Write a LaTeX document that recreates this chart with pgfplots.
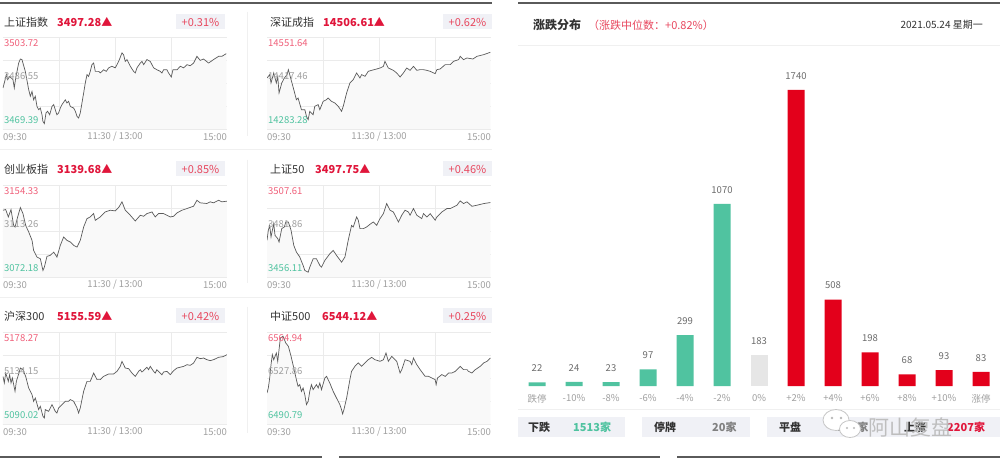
\documentclass[border=0pt]{standalone}
\usepackage{pgfplots}
\pgfplotsset{compat=1.18}
\usepackage{pgfplotstable}
\usepackage{fontspec}
\setmainfont{Noto Sans CJK SC}

\definecolor{txt}{HTML}{333333}
\definecolor{upred}{HTML}{E0163B}
\definecolor{pctred}{HTML}{E8475E}
\definecolor{labred}{HTML}{F0607A}
\definecolor{grn}{HTML}{50C3A0}
\definecolor{lgray}{HTML}{A0A0A0}
\definecolor{gridc}{HTML}{EBEBEB}
\definecolor{boxbg}{HTML}{F0F1F6}
\definecolor{linec}{HTML}{5A5A5A}
\definecolor{barred}{HTML}{E3001B}
\definecolor{bargray}{HTML}{E6E6E6}
\definecolor{sepc}{HTML}{F0F0F0}

\newcommand\ft{\fontsize{11}{13}\selectfont}
\newcommand\fv{\fontsize{11}{13}\selectfont\bfseries}
\newcommand\fs{\fontsize{9.5}{11}\selectfont}

% ---------- intraday series: minute since 09:30 (0..240), index value ----------
\pgfplotstableread{
m v
0 3484.7
1.4 3486.6
3.6 3489.7
5 3487.8
7.1 3489.0
10.7 3487.8
12.1 3484.7
13.6 3488.4
16.8 3494.0
18.6 3495.5
20.3 3495.3
23.9 3490.9
27.5 3484.1
29.3 3481.6
31.1 3483.4
32.8 3480.3
34.6 3481.6
36.4 3477.8
38.2 3476.6
40 3477.2
41.8 3474.7
42.8 3472.2
44.3 3471.4
46.1 3475.4
47.8 3476.0
50 3474.7
52.5 3477.8
54.3 3478.5
56 3476.6
57.8 3474.7
59.6 3475.4
61.4 3477.2
63.2 3478.5
66.8 3480.3
68.5 3479.1
70.3 3479.7
72.1 3477.8
75.7 3477.2
77.5 3476.0
79.3 3474.1
81 3473.5
82.8 3475.4
84.6 3479.1
86.4 3482.8
88.2 3486.6
90 3489.7
91.7 3489.0
93.5 3490.9
95.3 3493.4
97.1 3494.0
98.9 3490.9
102.5 3490.9
104.2 3490.3
107.8 3491.5
110.7 3490.9
113.2 3492.2
116.7 3492.8
120.3 3492.2
123.9 3494.6
127.5 3497.8
129.2 3497.1
131 3494.6
132.8 3495.3
136.4 3492.8
139.9 3490.9
141.7 3490.3
143.5 3492.2
147.1 3494.0
148.9 3494.6
150.7 3493.4
154.2 3495.3
157.8 3494.6
161.4 3492.2
164.9 3491.5
168.5 3490.9
170.3 3490.3
172.1 3491.5
175.6 3491.5
177.4 3490.3
180.3 3488.8
182.1 3491.5
186.5 3491.5
190 3492.8
193.5 3492.2
197.1 3493.4
200.6 3493.0
204.2 3494.0
207.8 3496.5
211.3 3495.0
214.9 3495.5
220.3 3494.0
225.6 3495.3
231 3496.5
234.5 3496.5
239.2 3497.5
}\dSH

\pgfplotstableread{
m v
0 14432.0
2.9 14441.8
4.3 14417.5
7.2 14446.6
10 14417.5
11.5 14436.9
12.9 14388.3
15.8 14417.5
18.6 14432.0
21.5 14441.8
22.9 14456.4
25.8 14427.2
28.7 14398.0
31.5 14368.8
33.3 14373.7
36.9 14339.7
40.5 14339.7
42.3 14320.2
44.1 14310.5
45.8 14334.8
49.4 14325.1
51.2 14349.4
54.8 14354.3
56.6 14339.7
60.2 14364.0
63.8 14368.8
65.6 14373.7
69.1 14364.0
72.7 14359.1
76.3 14349.4
79.9 14334.8
81.7 14349.4
85.3 14388.3
88.8 14417.5
92.4 14427.2
96 14446.6
99.6 14432.0
101.4 14441.8
105 14436.9
108.5 14451.5
112.1 14454.4
117.5 14458.3
121.1 14461.2
124.7 14466.1
126.4 14480.7
130 14461.2
135.4 14454.4
139 14446.6
142.6 14435.0
146.1 14446.6
149.7 14461.2
153.3 14454.4
156.9 14466.1
160.5 14454.4
164.1 14456.4
167.6 14456.4
171.2 14454.4
174.8 14451.5
180.2 14444.7
182 14456.4
185.5 14458.3
190.9 14471.0
196.3 14471.0
199.9 14480.7
205.3 14485.5
207 14495.3
210.6 14485.5
214.2 14490.4
220.7 14487.5
225 14495.3
232.1 14500.1
239.3 14507.0
}\dSZ

\pgfplotstableread{
m v
0 3131.8
2.9 3132.4
5.7 3125.8
8.6 3132.4
11.4 3118.3
12.9 3116.8
15.7 3125.8
18.6 3134.2
21.4 3128.8
24.3 3118.3
27.5 3112.4
31.1 3104.9
32.8 3096.0
36.4 3090.0
40 3088.5
42.8 3078.0
44.3 3081.0
47.1 3090.6
50.7 3091.5
54.3 3094.4
57.8 3090.0
61.4 3100.4
65 3107.9
68.5 3104.9
72.1 3103.4
75.7 3100.4
79.3 3098.9
82.8 3104.9
86.4 3116.8
90 3124.3
93.5 3125.8
97.1 3128.8
98.9 3122.8
104.2 3125.8
109.6 3130.3
115 3131.8
120.3 3131.2
123.9 3134.2
127.5 3139.3
131 3131.8
136.4 3127.3
141.7 3122.2
147.1 3127.3
150.7 3126.4
154.2 3128.8
159.6 3130.3
163.1 3125.8
166.7 3128.8
172.1 3128.8
175.6 3127.3
179.2 3125.8
182.8 3126.4
186.4 3129.4
191.7 3131.8
197.1 3133.3
204.2 3135.4
207.8 3140.7
211.3 3138.4
218.5 3137.8
222 3139.3
225.6 3138.4
231 3140.7
234.5 3139.3
240 3139.9
}\dCY

\pgfplotstableread{
m v
0 3476.6
1.4 3482.2
2.9 3485.0
4.3 3478.5
7.2 3486.0
8.6 3479.4
11.5 3477.6
12.9 3475.7
15.8 3483.2
18.6 3484.1
20.1 3486.9
22.9 3486.9
25.8 3482.2
28.7 3473.8
31.5 3470.1
35.1 3467.3
38.7 3462.6
40.5 3459.8
44.1 3458.8
45.8 3461.6
49.4 3466.3
53 3466.3
56.6 3462.6
58.4 3461.6
62 3465.4
67.3 3469.1
70.9 3471.0
74.5 3468.2
79.9 3464.4
83.5 3467.3
87 3476.6
90.6 3485.0
92.4 3484.1
96 3489.7
97.8 3487.9
99.6 3483.2
103.2 3483.2
106.7 3484.1
110.3 3485.6
113.9 3486.9
117.5 3485.0
121.1 3488.8
124.7 3491.6
128.2 3497.2
131.8 3493.5
135.4 3492.5
140.8 3486.9
144.4 3490.7
147.9 3493.5
151.5 3492.5
153.3 3490.7
156.9 3494.4
160.5 3490.7
165.8 3488.8
167.6 3491.6
171.2 3489.7
174.8 3491.6
180.2 3487.9
182 3489.7
187.3 3492.5
192.7 3494.4
196.3 3494.4
203.5 3496.3
207 3498.7
210.6 3497.2
214.2 3498.2
219.6 3495.7
225 3496.3
232.1 3497.2
239.3 3497.8
}\dSF

\pgfplotstableread{
m v
0 5135.7
1.4 5129.4
2.9 5138.9
5.7 5130.9
7.1 5137.3
8.6 5129.4
10 5134.2
12.9 5121.4
14.3 5130.9
17.1 5138.9
18.6 5143.7
21.4 5142.1
24.3 5135.7
27.5 5124.6
31.1 5118.2
32.8 5111.8
34.6 5115.0
38.2 5103.8
40 5107.0
42.8 5097.4
44.3 5095.8
45.3 5103.8
48.9 5102.2
52.5 5108.6
56 5102.2
57.8 5100.6
59.6 5105.4
63.2 5108.6
66.8 5111.8
70.3 5111.8
72.1 5113.4
75.7 5111.8
79.3 5105.4
81 5100.6
82.8 5105.4
86.4 5121.4
90 5130.9
93.5 5130.9
97.1 5138.9
100.7 5132.6
104.2 5132.6
107.8 5135.7
113.2 5138.0
118.5 5138.0
122.1 5140.5
125.7 5145.3
127.5 5150.1
131 5143.7
134.6 5143.1
138.2 5138.9
141.7 5135.7
145.3 5140.5
147.1 5142.1
148.9 5139.9
154.2 5144.4
156 5142.1
157.8 5145.3
161.4 5140.5
163.1 5138.9
164.9 5142.1
170.3 5137.3
172.1 5139.9
175.6 5140.5
179.2 5137.3
182.8 5141.2
186.4 5143.7
193.5 5145.3
197.1 5146.9
200.6 5146.3
204.2 5148.5
207.8 5154.0
211.3 5152.7
214.9 5153.3
218.5 5151.7
222 5150.8
225.6 5151.7
231 5154.0
235.6 5154.6
240 5156.5
}\dHS

\pgfplotstableread{
m v
0 6515.8
1.4 6519.8
2.9 6527.9
4.3 6538.6
5.7 6546.7
7.2 6542.6
10 6548.0
11.5 6541.3
12.9 6550.7
14.3 6560.1
17.2 6561.5
20.1 6556.1
22.9 6553.4
25.8 6545.3
28.7 6535.9
31.5 6526.5
33.3 6521.1
35.1 6522.5
36.9 6517.1
38.7 6519.8
40.5 6514.4
42.3 6506.4
44.1 6509.0
45.8 6517.1
47.6 6522.5
49.4 6518.5
53 6522.5
54.8 6519.8
56.6 6523.8
58.4 6518.5
62 6527.9
63.8 6529.2
67.3 6523.8
70.9 6517.1
74.5 6511.7
78.1 6506.4
79.9 6502.3
81 6498.9
82.4 6502.3
85.3 6511.7
88.8 6526.5
90.6 6533.2
94.2 6537.3
97.8 6540.0
101.4 6537.3
105 6540.0
108.5 6542.6
112.1 6544.5
115.7 6542.6
121.1 6541.3
124.7 6542.6
127.5 6548.0
130 6541.3
133.6 6545.3
139 6541.3
142.6 6531.9
144.4 6534.6
147.9 6542.6
153.3 6541.3
155.1 6538.6
156.9 6544.0
160.5 6538.6
164.1 6534.6
169.4 6529.2
173 6529.2
176.6 6527.9
180.2 6526.5
181.2 6522.5
182.7 6527.9
187.3 6530.6
190.9 6529.2
194.5 6531.9
198.1 6531.9
201.7 6533.2
207 6537.3
210.6 6534.6
214.2 6534.6
216 6533.2
219.6 6531.9
223.2 6534.6
228.5 6537.3
232.1 6540.0
235.7 6541.3
239.3 6544.0
}\dZZ

\pgfplotsset{
  mini/.style={scale only axis, width=224pt, height=92pt, anchor=south west,
    xmin=0, xmax=240, xtick={60,120,180}, xticklabels={}, yticklabels={},
    scaled y ticks=false, scaled x ticks=false,
    grid=major, grid style={draw=gridc, line width=0.6pt},
    axis line style={draw=none}, tick style={draw=none}},
  fillp/.style={draw=none, fill=gray!5},
  linep/.style={draw=linec, line width=0.7pt, mark=none},
}

\begin{document}
\begin{tikzpicture}
\useasboundingbox (0pt,0pt) rectangle (1000pt,471pt);
\fill[white] (0pt,0pt) rectangle (1000pt,471pt);

% ---------------- mini charts ----------------
\begin{axis}[mini, at={(3pt,342pt)}, ymin=3469.39, ymax=3503.72,
  ytick={3469.39,3477.97,3486.55,3495.14,3503.72}]
\addplot[fillp] table[x=m,y=v]{\dSH} \closedcycle;
\addplot[linep] table[x=m,y=v]{\dSH};
\end{axis}
\begin{axis}[mini, at={(267pt,342pt)}, ymin=14283.28, ymax=14551.64,
  ytick={14283.28,14350.37,14417.46,14484.55,14551.64}]
\addplot[fillp] table[x=m,y=v]{\dSZ} \closedcycle;
\addplot[linep] table[x=m,y=v]{\dSZ};
\end{axis}
\begin{axis}[mini, at={(3pt,194pt)}, ymin=3072.18, ymax=3154.33,
  ytick={3072.18,3092.72,3113.26,3133.79,3154.33}]
\addplot[fillp] table[x=m,y=v]{\dCY} \closedcycle;
\addplot[linep] table[x=m,y=v]{\dCY};
\end{axis}
\begin{axis}[mini, at={(267pt,194pt)}, ymin=3456.11, ymax=3507.61,
  ytick={3456.11,3468.99,3481.86,3494.74,3507.61}]
\addplot[fillp] table[x=m,y=v]{\dSF} \closedcycle;
\addplot[linep] table[x=m,y=v]{\dSF};
\end{axis}
\begin{axis}[mini, at={(3pt,47pt)}, ymin=5090.02, ymax=5178.27,
  ytick={5090.02,5112.08,5134.15,5156.21,5178.27}]
\addplot[fillp] table[x=m,y=v]{\dHS} \closedcycle;
\addplot[linep] table[x=m,y=v]{\dHS};
\end{axis}
\begin{axis}[mini, at={(267pt,47pt)}, ymin=6490.79, ymax=6564.94,
  ytick={6490.79,6509.33,6527.86,6546.40,6564.94}]
\addplot[fillp] table[x=m,y=v]{\dZZ} \closedcycle;
\addplot[linep] table[x=m,y=v]{\dZZ};
\end{axis}

% ---------------- distribution bar chart ----------------
\begin{axis}[scale only axis, width=481pt, height=296pt, anchor=south west,
  at={(518.5pt,85pt)}, xmin=-0.5, xmax=12.5, ymin=0, ymax=1740, clip=false,
  axis line style={draw=none}, tick style={draw=none}, ytick=\empty,
  xtick={0,...,12},
  xticklabels={跌停,-10\%,-8\%,-6\%,-4\%,-2\%,0\%,+2\%,+4\%,+6\%,+8\%,+10\%,涨停},
  x tick label style={font=\fs, text=lgray, yshift=-1pt},
  ybar, bar width=17pt, bar shift=0pt,
  nodes near coords,
  nodes near coords style={font=\fs, text=gray!85!black, yshift=7pt,
    /pgf/number format/1000 sep={}, /pgf/number format/assume math mode=true}]
\addplot[fill=grn, draw=none] coordinates {(0,22) (1,24) (2,23) (3,97) (4,299) (5,1070)};
\addplot[fill=bargray, draw=none] coordinates {(6,183)};
\addplot[fill=barred, draw=none] coordinates {(7,1740) (8,508) (9,198) (10,68) (11,93) (12,83)};
\end{axis}

\begin{scope}[x=1pt,y=1pt]
% ---------------- separators ----------------
\draw[linec, line width=2pt] (0,468) -- (492,468) (518,468) -- (1000,468);
\draw[linec, line width=2pt] (0,14) -- (322,14) (339,14) -- (660,14) (677,14) -- (1000,14);
\draw[sepc, line width=1pt] (0,321) -- (492,321) (0,173) -- (492,173);
\draw[sepc, line width=1pt] (247,459) -- (247,335) (247,311) -- (247,188) (247,164) -- (247,38);
\draw[sepc, line width=1pt] (518,425) -- (1000,425) (518,62) -- (1000,62);

% ---------------- mini chart texts ----------------
\foreach \ry/\tx/\vx/\iname/\ival/\ipct/\bx in {
  449/4/57/上证指数/3497.28/+0.31/176,
  449/270/323/深证成指/14506.61/+0.62/443,
  302/4/57/创业板指/3139.68/+0.85/176,
  302/270/315/上证50/3497.75/+0.46/443,
  155/4/57/沪深300/5155.59/+0.42/176,
  155/270/322/中证500/6544.12/+0.25/443}{
  \node[anchor=west, inner sep=0, font=\ft, text=txt] at (\tx,\ry) {\iname};
  \node[anchor=west, inner sep=0, font=\fv, text=upred] at (\vx,\ry) {\ival▲};
  \fill[boxbg] (\bx,\ry-7.5) rectangle (\bx+49,\ry+7.5);
  \node[inner sep=0, font=\ft, text=pctred] at (\bx+24.5,\ry) {\ipct\%};
}
\foreach \lx/\ptop/\pbot/\xl/\la/\lb/\lc in {
  4/434/342/334/3503.72/3486.55/3469.39,
  268/434/342/334/14551.64/14417.46/14283.28,
  4/286/194/186/3154.33/3113.26/3072.18,
  268/286/194/186/3507.61/3481.86/3456.11,
  4/139/47/39/5178.27/5134.15/5090.02,
  268/139/47/39/6564.94/6527.86/6490.79}{
  \node[anchor=west, inner sep=0, font=\fs, text=labred] at (\lx,\ptop-6) {\la};
  \node[anchor=west, inner sep=0, font=\fs, text=lgray] at (\lx,\ptop-39) {\lb};
  \node[anchor=west, inner sep=0, font=\fs, text=grn] at (\lx,\pbot+9) {\lc};
  \node[anchor=west, inner sep=0, font=\fs, text=lgray] at (\lx-1,\xl) {09:30};
  \node[inner sep=0, font=\fs, text=lgray] at (\lx+111,\xl) {11:30 / 13:00};
  \node[anchor=east, inner sep=0, font=\fs, text=lgray] at (\lx+223,\xl) {15:00};
}

% ---------------- right panel header ----------------
\node[anchor=west, inner sep=0, font=\fontsize{12}{14}\selectfont\bfseries, text=txt] at (533,446) {涨跌分布};
\node[anchor=west, inner sep=0, font=\ft, text=pctred] at (588,446) {（涨跌中位数：+0.82\%）};
\node[anchor=east, inner sep=0, font=\fontsize{10}{12}\selectfont, text=txt] at (983,446) {2021.05.24 星期一};

% ---------------- summary boxes ----------------
\fill[boxbg] (518,34) rectangle (625,54);
\fill[boxbg] (642,34) rectangle (750,54);
\fill[boxbg] (767,34) rectangle (1000,54);
\node[anchor=west, inner sep=0, font=\fv, text=txt] at (528,44) {下跌};
\node[anchor=west, inner sep=0, font=\fv, text=grn] at (573,44) {1513家};
\node[anchor=west, inner sep=0, font=\fv, text=txt] at (654,44) {停牌};
\node[anchor=west, inner sep=0, font=\fv, text=gray] at (712,44) {20家};
\node[anchor=west, inner sep=0, font=\fv, text=txt] at (779,44) {平盘};
\node[anchor=west, inner sep=0, font=\fv, text=gray] at (837,44) {183家};
\node[anchor=west, inner sep=0, font=\fv, text=txt] at (904,44) {上涨};
\node[anchor=west, inner sep=0, font=\fv, text=upred] at (947,44) {2207家};

% ---------------- watermark ----------------
\filldraw[fill=white, draw=gray!45, line width=0.8pt] (836,51) ellipse (13 and 10.5);
\filldraw[fill=white, draw=gray!45, line width=0.8pt] (850,42) ellipse (10.5 and 8.5);
\fill[gray!55] (832,53) circle (1.4) (841,53) circle (1.4) (847,43) circle (1.1) (854,43) circle (1.1);
\node[anchor=west, inner sep=0, font=\fontsize{21}{23}\selectfont, text=gray!55, opacity=0.9] at (868,44) {阿山复盘};
\end{scope}
\end{tikzpicture}
\end{document}
